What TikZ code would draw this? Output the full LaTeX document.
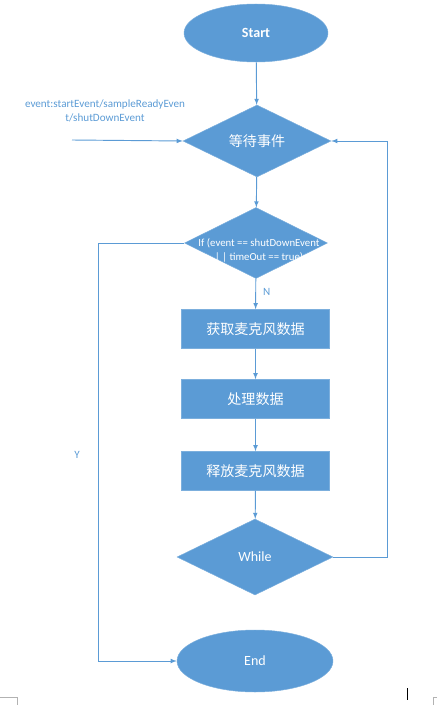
\documentclass[tikz,border=0pt]{standalone}
\usepackage{fontspec}
\setmainfont{Carlito}
\newfontfamily\cjk{Noto Sans CJK SC}
\usepackage{tikz}
\usetikzlibrary{shapes.geometric}
\definecolor{officeblue}{HTML}{5B9BD5}
\tikzset{
  font=\fontsize{10}{12}\selectfont,
  blob/.style={fill=officeblue,draw=officeblue!80!white,thin,inner sep=0pt,text=white},
  flow/.style={officeblue,line width=0.8pt,-latex},
  note/.style={text=officeblue,font=\fontsize{9.5}{12}\selectfont}
}
\begin{document}
\begin{tikzpicture}[x=0.03cm,y=-0.03cm]
  \useasboundingbox (0,0) rectangle (437,705);
  % terminals
  \node[blob,ellipse,minimum width=4.32cm,minimum height=1.74cm,font=\fontsize{12}{14}\selectfont\bfseries] (start) at (256,33) {Start};
  \node[blob,ellipse,minimum width=4.68cm,minimum height=1.86cm,font=\fontsize{12}{14}\selectfont] (end) at (255,661) {End};

  % decisions
  \node[blob,diamond,minimum width=4.44cm,minimum height=2.16cm] (wait) at (257,141) {};
  \node[text=white,font=\cjk\fontsize{12}{14}\selectfont] (waittext) at (wait) {等待事件};
  \node[blob,diamond,minimum width=4.29cm,minimum height=2.13cm] (check) at (256,243) {};
  \node[text=white,align=center,inner sep=0pt,font=\fontsize{9.2}{12}\selectfont] (checktext) at (259,250) {If (event == shutDownEvent\\| | timeOut == true)};
  \node[blob,diamond,minimum width=4.68cm,minimum height=2.28cm,font=\fontsize{12}{14}\selectfont] (while) at (255,557) {While};

  % steps
  \node[blob,rectangle,minimum width=4.44cm,minimum height=1.17cm,font=\cjk\fontsize{12}{14}\selectfont] (grab) at (255.5,329) {获取麦克风数据};
  \node[blob,rectangle,minimum width=4.44cm,minimum height=1.17cm,font=\cjk\fontsize{12}{14}\selectfont] (proc) at (255.5,399) {处理数据};
  \node[blob,rectangle,minimum width=4.44cm,minimum height=1.17cm,font=\cjk\fontsize{12}{14}\selectfont] (free) at (255.5,471) {释放麦克风数据};

  % main line
  \draw[flow] (start) -- (wait);
  \draw[flow] (wait) -- (check);
  \draw[flow] (check) -- (grab);
  \draw[flow] (grab) -- (proc);
  \draw[flow] (proc) -- (free);
  \draw[flow] (free) -- (while);

  % loop back and exit
  \draw[flow] (while.east) -- (387,557) |- (wait.east);
  \draw[flow] (check.west) -- (98,243) |- (end.west);
  \node[note,anchor=west] (no) at (259,292) {N};
  \node[note] (yes) at (77,455) {Y};

  % incoming events
  \coordinate (evin) at (72,140);
  \draw[flow] (evin) -- (wait.west);
  \node[note,align=center] (evtext) at (105,111) {event:startEvent/sampleReadyEven\\t/shutDownEvent};

  % page corners
  \draw[gray!60,thin] (0,697) -- (17,697) -- (17,705);
  \draw[gray!60,thin] (437,697) -- (433,697) -- (433,705);
  \draw[black,thin] (407,688) -- (407,700);
\end{tikzpicture}
\end{document}
